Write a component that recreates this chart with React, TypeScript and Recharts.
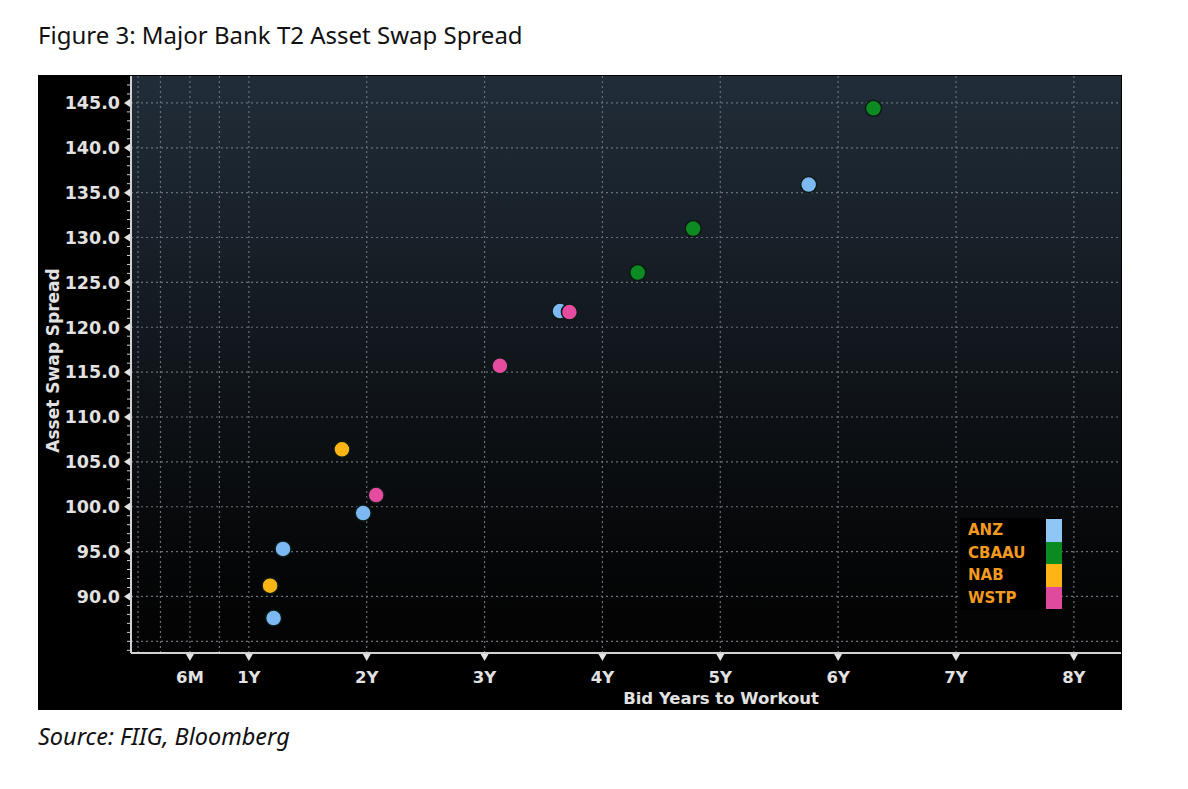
import {
  CartesianGrid,
  Label,
  Legend,
  ReferenceLine,
  Scatter,
  ScatterChart,
  XAxis,
  YAxis,
} from "recharts";

// bid years to workout and asset swap spread per issuer
const anzYears = [1.21, 1.29, 1.97, 3.64, 5.75];
const anzSpread = [87.6, 95.3, 99.3, 121.8, 135.9];
const cbaYears = [4.3, 4.77, 6.3];
const cbaSpread = [126.1, 131.0, 144.4];
const nabYears = [1.18, 1.79];
const nabSpread = [91.2, 106.4];
const wstpYears = [2.08, 3.13, 3.72];
const wstpSpread = [101.3, 115.7, 121.7];

const xTickValues = [0.5, 1, 2, 3, 4, 5, 6, 7, 8];
const xTickLabels = ["6M", "1Y", "2Y", "3Y", "4Y", "5Y", "6Y", "7Y", "8Y"];
const xMinorGrid = [0.06, 0.25, 0.75];
const yTickValues = [90, 95, 100, 105, 110, 115, 120, 125, 130, 135, 140, 145];
const yGridValues = [85, ...yTickValues];
// one small tick per basis point along the y axis
const yMinorTicks = Array.from({ length: 64 }, (_, i) => 84 + i);

const toPoints = (xs: number[], ys: number[]) =>
  xs.map((years, i) => ({ years, spread: ys[i] }));

const series = [
  { name: "ANZ", data: toPoints(anzYears, anzSpread), fill: "#7cb9f2", key: "#8ec6f6" },
  { name: "CBAAU", data: toPoints(cbaYears, cbaSpread), fill: "#0e8a22", key: "#0b8a1f" },
  { name: "NAB", data: toPoints(nabYears, nabSpread), fill: "#fdb515", key: "#fdb515" },
  { name: "WSTP", data: toPoints(wstpYears, wstpSpread), fill: "#e54c9f", key: "#e04a9c" },
];

const axisColor = "#d2d2d2";
const textColor = "#e2e2e2";
const termFont = "'DejaVu Sans', sans-serif";
const gridStyle = { stroke: "#6a7077", strokeDasharray: "2 3", strokeWidth: 1.2 };

function XTick(props: any) {
  const { x, y, payload } = props;
  const i = xTickValues.indexOf(payload.value);
  if (i < 0) return null;
  return (
    <g>
      <path d={`M${x - 4},${y + 1} L${x + 4},${y + 1} L${x},${y + 8} Z`} fill={textColor} />
      <text
        x={x}
        y={y + 30}
        textAnchor="middle"
        fill={textColor}
        fontSize={16.5}
        fontWeight="bold"
        fontFamily={termFont}
      >
        {xTickLabels[i]}
      </text>
    </g>
  );
}

function YTick(props: any) {
  const { x, y, payload } = props;
  if (!yTickValues.includes(payload.value)) {
    return <line x1={x - 4} x2={x} y1={y} y2={y} stroke={axisColor} strokeWidth={1} />;
  }
  return (
    <g>
      <path d={`M${x - 1},${y - 4} L${x - 1},${y + 4} L${x - 7},${y} Z`} fill={textColor} />
      <text
        x={x - 11}
        y={y}
        dy="0.36em"
        textAnchor="end"
        fill={textColor}
        fontSize={17.5}
        fontWeight="bold"
        fontFamily={termFont}
      >
        {payload.value.toFixed(1)}
      </text>
    </g>
  );
}

function KeyBox(props: any) {
  const { payload } = props;
  return (
    <div style={{ background: "#000", width: 102, padding: "1px 0" }}>
      {(payload || []).map((entry: any) => (
        <div key={entry.value} style={{ display: "flex", alignItems: "center", height: 22.5 }}>
          <span
            style={{
              flex: 1,
              paddingLeft: 8,
              color: "#f39a21",
              fontFamily: termFont,
              fontWeight: "bold",
              fontSize: 15,
            }}
          >
            {entry.value}
          </span>
          <span
            style={{
              width: 16,
              height: 22.5,
              background: series.find((s) => s.name === entry.value)?.key,
            }}
          />
        </div>
      ))}
    </div>
  );
}

function Bubble(fill: string) {
  return (props: any) => (
    <circle cx={props.cx} cy={props.cy} r={8} fill={fill} stroke="#0b1a14" strokeWidth={1.5} />
  );
}

export default function App() {
  return (
    <div style={{ position: "absolute", left: 0, top: 0, width: 1188, height: 789, background: "#fff" }}>
      <div
        style={{
          position: "absolute",
          left: 38,
          top: 18,
          fontFamily: "'Noto Sans', sans-serif",
          fontSize: 24,
          color: "#111",
        }}
      >
        Figure 3: Major Bank T2 Asset Swap Spread
      </div>
      <div style={{ position: "absolute", left: 38, top: 75, width: 1084, height: 635, background: "#000" }}>
        <ScatterChart width={1084} height={635} margin={{ top: 1, right: 1, bottom: 0, left: 0 }}>
          <defs>
            <linearGradient id="plotShade" x1="0" x2="0" y1="0" y2="1">
              <stop offset="0%" stopColor="#212d39" />
              <stop offset="45%" stopColor="#12181e" />
              <stop offset="85%" stopColor="#050607" />
              <stop offset="100%" stopColor="#030303" />
            </linearGradient>
          </defs>
          <CartesianGrid horizontal={false} vertical={false} fill="url(#plotShade)" stroke="none" />
          {[...xMinorGrid, ...xTickValues].map((v) => (
            <ReferenceLine key={`x${v}`} x={v} {...gridStyle} />
          ))}
          {yGridValues.map((v) => (
            <ReferenceLine key={`y${v}`} y={v} {...gridStyle} />
          ))}
          <XAxis
            type="number"
            dataKey="years"
            domain={[0, 8.4]}
            ticks={xTickValues}
            interval={0}
            height={57}
            tickSize={0}
            tickMargin={0}
            tick={<XTick />}
            axisLine={{ stroke: axisColor, strokeWidth: 2 }}
            tickLine={false}
          >
            <Label
              content={(p: any) => (
                <text
                  x={p.viewBox.x + p.viewBox.width * 0.596}
                  y={p.viewBox.y + 51}
                  textAnchor="middle"
                  fill={textColor}
                  fontSize={16.5}
                  fontWeight="bold"
                  fontFamily={termFont}
                >
                  Bid Years to Workout
                </text>
              )}
            />
          </XAxis>
          <YAxis
            type="number"
            dataKey="spread"
            domain={[83.7, 148]}
            ticks={yMinorTicks}
            interval={0}
            width={93}
            tickSize={0}
            tickMargin={0}
            tick={<YTick />}
            axisLine={{ stroke: axisColor, strokeWidth: 2 }}
            tickLine={false}
          >
            <Label
              content={(p: any) => {
                const cx = p.viewBox.x + 15;
                const cy = p.viewBox.y + p.viewBox.height / 2 - 4;
                return (
                  <text
                    x={cx}
                    y={cy}
                    transform={`rotate(-90 ${cx} ${cy})`}
                    textAnchor="middle"
                    dy="0.35em"
                    fill={textColor}
                    fontSize={17}
                    fontWeight="bold"
                    fontFamily={termFont}
                  >
                    Asset Swap Spread
                  </text>
                );
              }}
            />
          </YAxis>
          {series.map((s) => (
            <Scatter
              key={s.name}
              name={s.name}
              data={s.data}
              fill={s.fill}
              shape={Bubble(s.fill)}
              isAnimationActive={false}
            />
          ))}
          <Legend
            layout="horizontal"
            verticalAlign="middle"
            align="center"
            content={<KeyBox />}
            wrapperStyle={{ left: 922, top: 443, width: 102 }}
          />
        </ScatterChart>
      </div>
      <div
        style={{
          position: "absolute",
          left: 38,
          top: 720,
          fontFamily: "'Noto Sans', sans-serif",
          fontStyle: "italic",
          fontSize: 23.5,
          color: "#111",
        }}
      >
        Source: FIIG, Bloomberg
      </div>
    </div>
  );
}
